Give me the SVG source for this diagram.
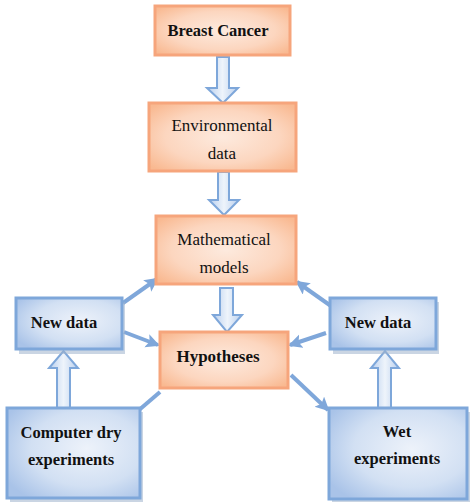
<svg xmlns="http://www.w3.org/2000/svg" width="474" height="504" viewBox="0 0 474 504">
<defs>
<radialGradient id="og" cx="0.5" cy="0.5" r="0.65">
<stop offset="0" stop-color="#fdeade"/>
<stop offset="0.6" stop-color="#fcd6bf"/>
<stop offset="1" stop-color="#f9b991"/>
</radialGradient>
<radialGradient id="bg" cx="0.6" cy="0.45" r="0.7">
<stop offset="0" stop-color="#edf2fa"/>
<stop offset="0.6" stop-color="#d2e0f3"/>
<stop offset="1" stop-color="#a9c3e8"/>
</radialGradient>
<linearGradient id="ag" x1="0" y1="0" x2="1" y2="0">
<stop offset="0" stop-color="#b9cfee"/>
<stop offset="0.5" stop-color="#eef4fb"/>
<stop offset="1" stop-color="#b9cfee"/>
</linearGradient>
<marker id="ah" markerUnits="userSpaceOnUse" markerWidth="16" markerHeight="16" refX="12" refY="7" orient="auto">
<path d="M0,0 L14,7 L0,14 L3,7 Z" fill="#7fa7da"/>
</marker>
</defs>
<style>
.ob{fill:url(#og);stroke:#f6a57c;stroke-width:3}
.bb{fill:url(#bg);stroke:#7ea7da;stroke-width:3}
.sh{fill:#9fb3cc;opacity:0.55}
.ba{fill:url(#ag);stroke:#7ea7da;stroke-width:2;stroke-linejoin:miter}
.ln{stroke:#7fa7da;stroke-width:4;fill:none}
.tb{font-weight:bold;font-size:16.5px;fill:#111;text-anchor:middle}
.tr{font-size:17px;fill:#111;text-anchor:middle}
</style>

<g id="connectors">
<path class="ba" d="M217,57 H229 V88 H238 L223,103 L207,88 H217 Z"/>
<path class="ba" d="M218,172 H229 V200 H239 L224,215 L209,200 H218 Z"/>
<path class="ba" d="M220,288 H233 V315 H242 L227,332 L213,315 H220 Z"/>
<path class="ba" d="M57,408 V368 H49 L63.5,351 L78,368 H70 V408 Z"/>
<path class="ba" d="M378,408 V368 H371 L385,351 L399,368 H391 V408 Z"/>
<line class="ln" x1="123" y1="303" x2="157" y2="279" marker-end="url(#ah)"/>
<line class="ln" x1="124" y1="332" x2="158" y2="345" marker-end="url(#ah)"/>
<line class="ln" x1="331" y1="306" x2="297" y2="282" marker-end="url(#ah)"/>
<line class="ln" x1="326" y1="333" x2="290" y2="345" marker-end="url(#ah)"/>
<line class="ln" x1="291" y1="375" x2="328" y2="410" marker-end="url(#ah)"/>
<line class="ln" x1="160" y1="392" x2="139" y2="410"/>
</g>

<g font-family="'Liberation Serif', 'Times New Roman', 'DejaVu Serif', serif">
<g id="breast-cancer">
<rect class="ob" x="155" y="6" width="135" height="49"/>
<text class="tb" x="218" y="36">Breast Cancer</text>
</g>

<g id="environmental-data">
<rect class="ob" x="149" y="103" width="147" height="68"/>
<text class="tr" x="222" y="131">Environmental</text>
<text class="tr" x="222" y="159">data</text>
</g>

<g id="mathematical-models">
<rect class="ob" x="156" y="216" width="140" height="68"/>
<text class="tr" x="224" y="245">Mathematical</text>
<text class="tr" x="224" y="273">models</text>
</g>

<g id="hypotheses">
<rect class="ob" x="160" y="332" width="128" height="56"/>
<text class="tb" x="218" y="362" style="font-size:17px">Hypotheses</text>
</g>

<g id="new-data-left">
<rect class="sh" x="19" y="302" width="106" height="52"/>
<rect class="bb" x="16" y="298" width="106" height="51"/>
<text class="tb" x="64" y="328">New data</text>
</g>

<g id="new-data-right">
<rect class="sh" x="333" y="302" width="106" height="52"/>
<rect class="bb" x="330" y="298" width="106" height="51"/>
<text class="tb" x="378" y="328">New data</text>
</g>

<g id="computer-dry-experiments">
<rect class="sh" x="10" y="412" width="133" height="90"/>
<rect class="bb" x="7" y="408" width="133" height="90"/>
<text class="tb" x="71" y="438">Computer dry</text>
<text class="tb" x="71" y="465">experiments</text>
</g>

<g id="wet-experiments">
<rect class="sh" x="332" y="412" width="138" height="90"/>
<rect class="bb" x="329" y="408" width="138" height="91"/>
<text class="tb" x="397" y="437">Wet</text>
<text class="tb" x="397" y="464">experiments</text>
</g>
</g>
</svg>
